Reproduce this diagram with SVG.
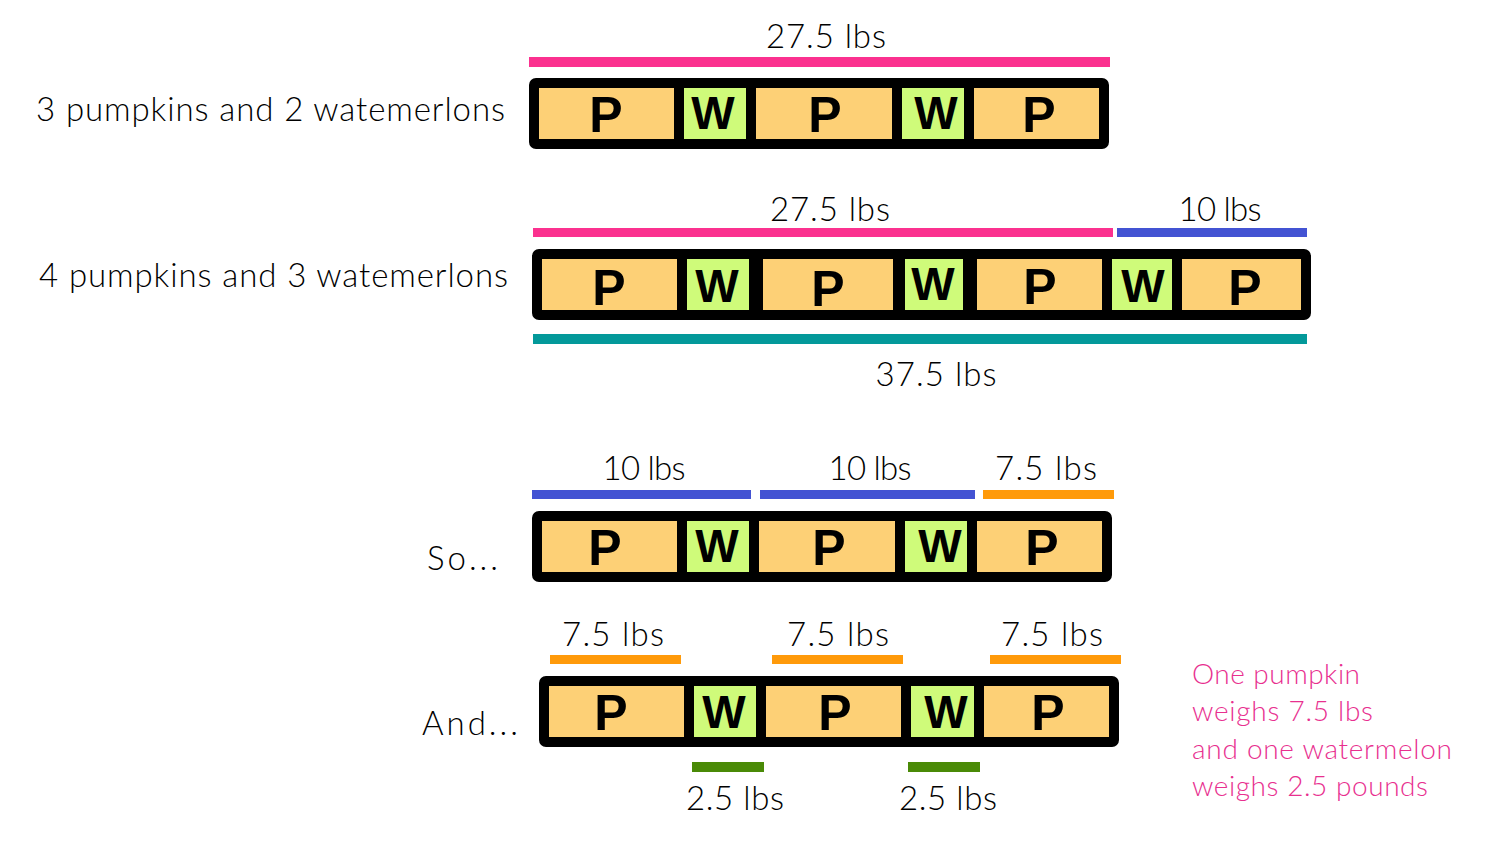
<svg xmlns="http://www.w3.org/2000/svg" width="1500" height="844" viewBox="0 0 1500 844">
<style>
.t{font-family:"Lato","Open Sans",sans-serif;font-size:33px;fill:#000;font-weight:300}
.c{text-anchor:middle}
.m{fill:#e8308f;font-size:28px;font-weight:300}
.l{font-family:"Liberation Sans",Arial,sans-serif;font-weight:700;font-size:50px;text-anchor:middle;fill:#000}
.x{font-size:46px}
.o{fill:none;stroke:#000;stroke-width:10}
.p{fill:#fdd076}.w{fill:#cffb7a}
.d{stroke:#000;stroke-width:10}
</style>
<rect width="1500" height="844" fill="#fff"/>
<g id="labels">
<text class="t c" x="826" y="48" textLength="120">27.5 lbs</text>
<text class="t" x="36" y="121" textLength="469">3 pumpkins and 2 watemerlons</text>
<text class="t c" x="830" y="221" textLength="120">27.5 lbs</text>
<text class="t c" x="1220" y="221" textLength="83">10 lbs</text>
<text class="t" x="39" y="287" textLength="469">4 pumpkins and 3 watemerlons</text>
<text class="t c" x="936" y="386" textLength="121">37.5 lbs</text>
<text class="t c" x="644" y="480" textLength="83">10 lbs</text>
<text class="t c" x="870" y="480" textLength="83">10 lbs</text>
<text class="t c" x="1046" y="480" textLength="102">7.5 lbs</text>
<text class="t" x="427" y="570" textLength="71">So...</text>
<text class="t c" x="613" y="646" textLength="102">7.5 lbs</text>
<text class="t c" x="838" y="646" textLength="102">7.5 lbs</text>
<text class="t c" x="1052" y="646" textLength="102">7.5 lbs</text>
<text class="t" x="422" y="735" textLength="96">And...</text>
<text class="t c" x="735" y="810" textLength="98">2.5 lbs</text>
<text class="t c" x="948" y="810" textLength="98">2.5 lbs</text>
<text class="t m" x="1192" y="684" textLength="168">One pumpkin</text>
<text class="t m" x="1192" y="721" textLength="181">weighs 7.5 lbs</text>
<text class="t m" x="1192" y="759" textLength="260">and one watermelon</text>
<text class="t m" x="1192" y="796" textLength="236">weighs 2.5 pounds</text>
</g>
<g id="bars">
<rect x="529" y="57" width="581" height="10" fill="#fb318f"/>
<rect x="533" y="228" width="580" height="9" fill="#fb318f"/>
<rect x="1117" y="228" width="190" height="9" fill="#4353d3"/>
<rect x="533" y="334" width="774" height="10" fill="#03999a"/>
<rect x="532" y="490" width="219" height="9" fill="#4353d3"/>
<rect x="760" y="490" width="215" height="9" fill="#4353d3"/>
<rect x="983" y="490" width="131" height="9" fill="#ff9a0a"/>
<rect x="550" y="655" width="131" height="9" fill="#ff9a0a"/>
<rect x="772" y="655" width="131" height="9" fill="#ff9a0a"/>
<rect x="990" y="655" width="131" height="9" fill="#ff9a0a"/>
<rect x="692" y="762" width="72" height="10" fill="#4a8a07"/>
<rect x="908" y="762" width="72" height="10" fill="#4a8a07"/>
</g>
<g id="row1">
<rect class="p" x="534" y="83" width="570" height="61"/>
<rect class="w" x="679" y="83" width="72" height="61"/><rect class="w" x="897" y="83" width="72" height="61"/>
<path class="d" d="M679 83V144M751 83V144M897 83V144M969 83V144"/>
<rect class="o" x="534" y="83" width="570" height="61" rx="2"/>
<text class="l" x="606" y="132">P</text><text class="l x" x="713" y="129">W</text><text class="l" x="825" y="132">P</text><text class="l x" x="936" y="129">W</text><text class="l" x="1039" y="132">P</text>
</g>
<g id="row2">
<rect class="p" x="537" y="254" width="769" height="61"/>
<rect class="w" x="682" y="254" width="74" height="61"/><rect class="w" x="899" y="254" width="71" height="61"/><rect class="w" x="1107" y="254" width="70" height="61"/>
<path class="d" d="M682 254V315M1107 254V315M1177 254V315"/>
<path class="d" stroke-width="14" style="stroke-width:14" d="M756 254V315M970 254V315"/>
<path class="d" style="stroke-width:12" d="M899 254V315"/>
<rect class="o" x="537" y="254" width="769" height="61" rx="2"/>
<text class="l" x="609" y="305">P</text><text class="l x" x="717" y="302">W</text><text class="l" x="828" y="306">P</text><text class="l x" x="933" y="300">W</text><text class="l" x="1040" y="304">P</text><text class="l x" x="1143" y="302">W</text><text class="l" x="1245" y="305">P</text>
</g>
<g id="row3">
<rect class="p" x="537" y="516" width="570" height="61"/>
<rect class="w" x="682" y="516" width="72" height="61"/><rect class="w" x="900" y="516" width="72" height="61"/>
<path class="d" d="M682 516V577M754 516V577M900 516V577M972 516V577"/>
<rect class="o" x="537" y="516" width="570" height="61" rx="2"/>
<text class="l" x="605" y="565">P</text><text class="l x" x="717" y="562">W</text><text class="l" x="829" y="565">P</text><text class="l x" x="940" y="562">W</text><text class="l" x="1042" y="565">P</text>
</g>
<g id="row4">
<rect class="p" x="544" y="681" width="570" height="61"/>
<rect class="w" x="689" y="681" width="72" height="61"/><rect class="w" x="906" y="681" width="73" height="61"/>
<path class="d" d="M689 681V742M761 681V742M906 681V742M979 681V742"/>
<rect class="o" x="544" y="681" width="570" height="61" rx="2"/>
<text class="l" x="611" y="730">P</text><text class="l x" x="724" y="728">W</text><text class="l" x="835" y="730">P</text><text class="l x" x="946" y="728">W</text><text class="l" x="1048" y="730">P</text>
</g>
</svg>
